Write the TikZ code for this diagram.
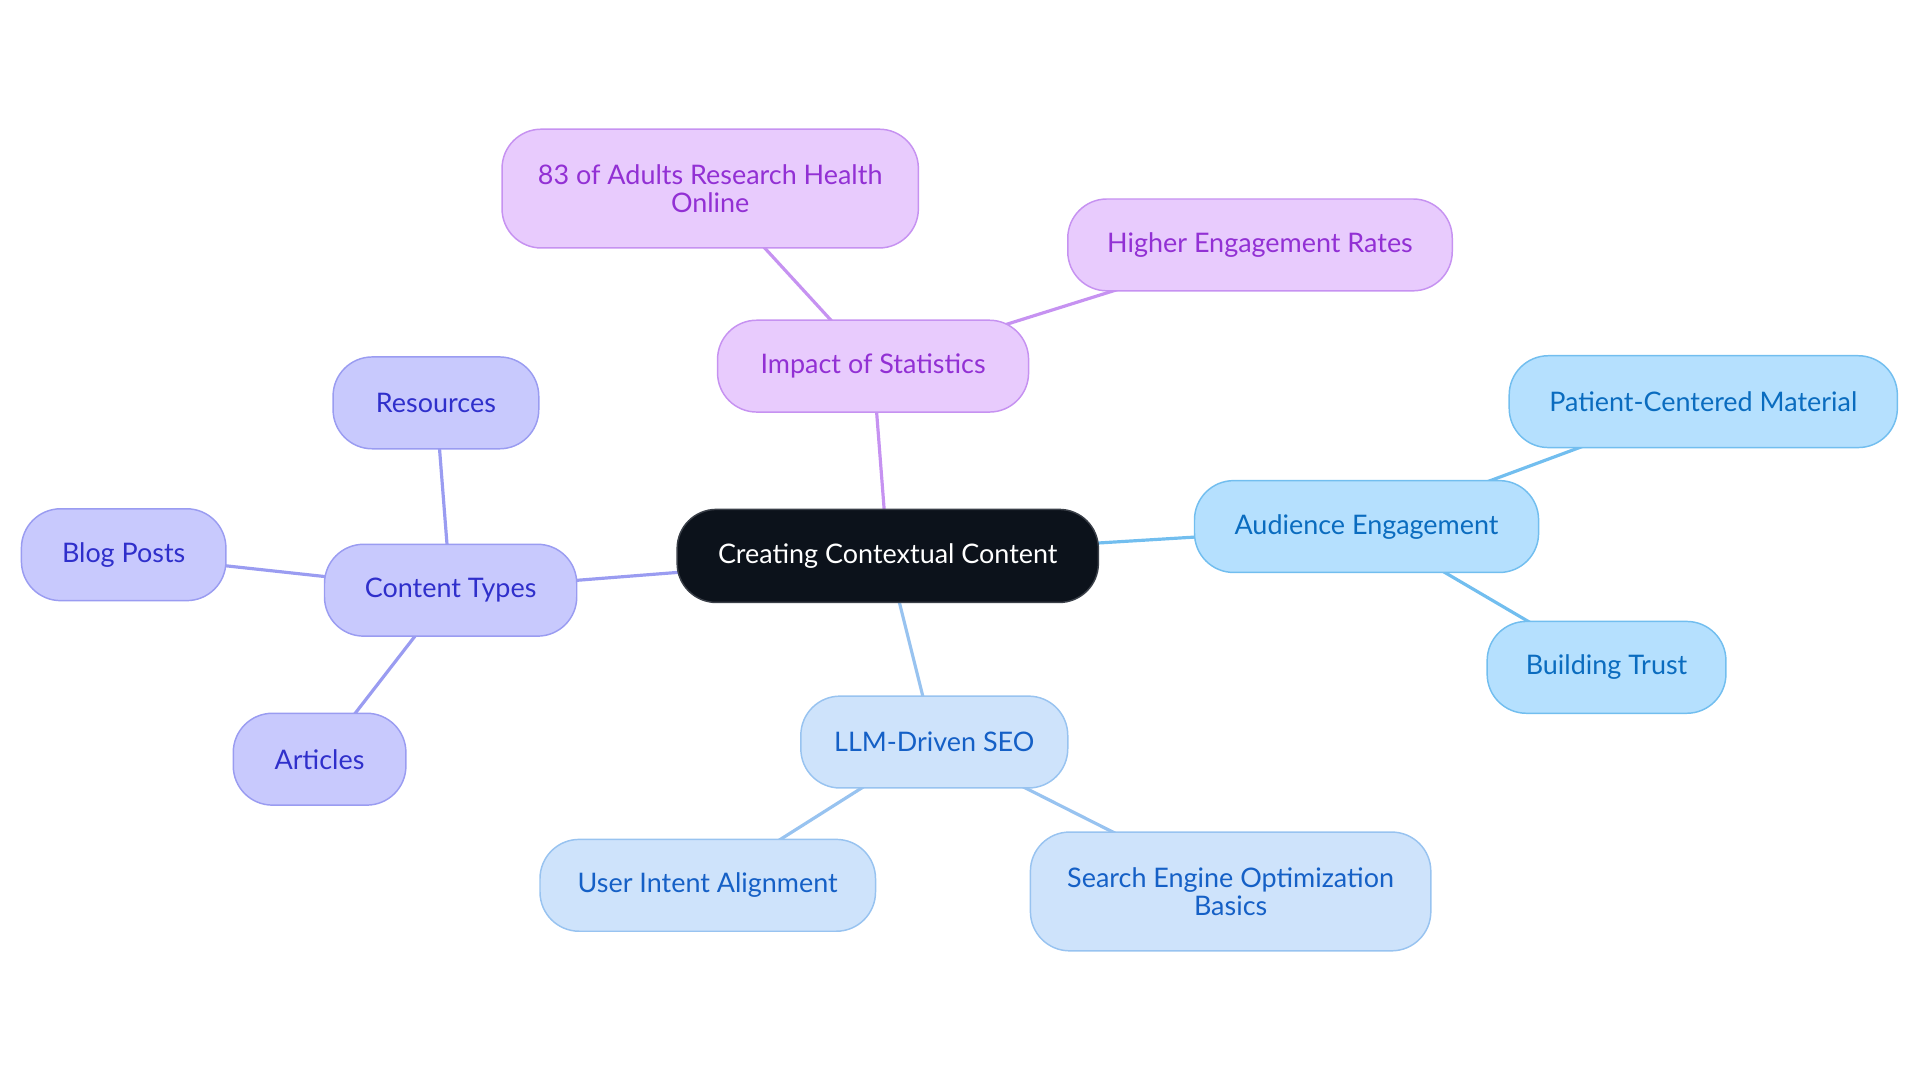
\documentclass[tikz,border=0pt]{standalone}
\usepackage{fontspec}
\setmainfont{Lato}
\usetikzlibrary{positioning}
\usetikzlibrary{backgrounds}

\definecolor{hubfill}{HTML}{0C121B}
\definecolor{hubline}{HTML}{3A3F48}
\definecolor{statfill}{HTML}{E8CBFD}
\definecolor{statline}{HTML}{C692F1}
\definecolor{stattext}{HTML}{9230D4}
\definecolor{typefill}{HTML}{C8C9FD}
\definecolor{typeline}{HTML}{9A9CF1}
\definecolor{typetext}{HTML}{2F2FCB}
\definecolor{audfill}{HTML}{B5E0FE}
\definecolor{audline}{HTML}{72BEEF}
\definecolor{audtext}{HTML}{0A6CBF}
\definecolor{seofill}{HTML}{CEE3FB}
\definecolor{seoline}{HTML}{98C3F0}
\definecolor{seotext}{HTML}{1560C6}

\begin{document}
\begin{tikzpicture}[x=0.5pt,y=-0.5pt]
    \tikzset{base/.style = {rectangle, rounded corners=16pt, line width=0.6pt,
                           minimum height=37.5pt, inner sep=2pt,
                           align=center, font=\fontsize{11}{11.5}\selectfont}}
    \tikzset{hub/.style = {base, draw=hubline, fill=hubfill, text=white}}
    \tikzset{stat/.style = {base, draw=statline, fill=statfill, text=stattext}}
    \tikzset{ctype/.style = {base, draw=typeline, fill=typefill, text=typetext}}
    \tikzset{aud/.style = {base, draw=audline, fill=audfill, text=audtext}}
    \tikzset{seo/.style = {base, draw=seoline, fill=seofill, text=seotext}}
    \tikzset{link/.style = {line width=1.3pt}}

    \useasboundingbox (0,0) rectangle (1568,884.4);

    \node (hub) [hub, minimum width=172pt, minimum height=38pt] at (725,454) {Creating Contextual Content};

    \node (impact) [stat, minimum width=127pt] at (713,299) {Impact of Statistics};
    \node (adults) [stat, minimum width=170pt, minimum height=48.5pt] at (580,154) {83 of Adults Research Health\\Online};
    \node (rates) [stat, minimum width=157pt] at (1029,200) {Higher Engagement Rates};

    \node (audience) [aud, minimum width=140.5pt] at (1116,430) {Audience Engagement};
    \node (patient) [aud, minimum width=158.5pt] at (1391,328) {Patient-Centered Material};
    \node (trust) [aud, minimum width=97.5pt] at (1312,545) {Building Trust};

    \node (llm) [seo, minimum width=109pt] at (763,606) {LLM-Driven SEO};
    \node (intent) [seo, minimum width=137pt] at (578,723) {User Intent Alignment};
    \node (basics) [seo, minimum width=163.5pt, minimum height=48.5pt] at (1005,728) {Search Engine Optimization\\Basics};

    \node (types) [ctype, minimum width=103pt] at (368,482) {Content Types};
    \node (resources) [ctype, minimum width=84pt] at (356,329) {Resources};
    \node (blog) [ctype, minimum width=83.5pt] at (101,453) {Blog Posts};
    \node (articles) [ctype, minimum width=70.5pt] at (261,620) {Articles};

    \begin{scope}[on background layer]
    \draw[link, statline] (hub.center) -- (impact.center);
    \draw[link, statline] (impact.center) -- (adults.center);
    \draw[link, statline] (impact.center) -- (rates.center);
    \draw[link, audline] (hub.center) -- (audience.center);
    \draw[link, audline] (audience.center) -- (patient.center);
    \draw[link, audline] (audience.center) -- (trust.center);
    \draw[link, seoline] (hub.center) -- (llm.center);
    \draw[link, seoline] (llm.center) -- (intent.center);
    \draw[link, seoline] (llm.center) -- (basics.center);
    \draw[link, typeline] (hub.center) -- (types.center);
    \draw[link, typeline] (types.center) -- (resources.center);
    \draw[link, typeline] (types.center) -- (blog.center);
    \draw[link, typeline] (types.center) -- (articles.center);
    \end{scope}

\end{tikzpicture}
\end{document}
